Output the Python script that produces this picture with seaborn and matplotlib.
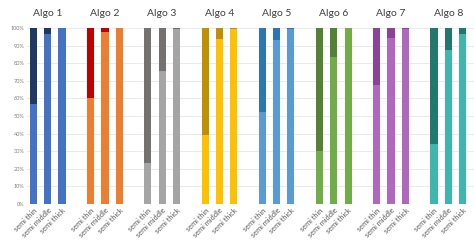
import pandas as pd
import numpy as np
import matplotlib.pyplot as plt
import seaborn as sns

# data: share (%) of the lower, lighter part of each bar
algos = ['Algo 1', 'Algo 2', 'Algo 3', 'Algo 4', 'Algo 5', 'Algo 6', 'Algo 7', 'Algo 8']
kinds = ['semi thin', 'semi middle', 'semi thick']
lower = [
    [57, 96.5, 100],
    [60, 98, 100],
    [23.5, 75.5, 99.5],
    [39, 93.5, 99.3],
    [52, 93, 99.6],
    [30, 83.5, 100],
    [67.5, 94.5, 99.6],
    [34, 87.5, 96.5],
]
dark = ['#203864', '#C00000', '#767171', '#BF9000', '#2E75B6', '#548235', '#8A4399', '#22776F']
light = ['#4472C4', '#ED7D31', '#A5A5A5', '#FFC000', '#5B9BD5', '#70AD47', '#B068BF', '#3EB5AE']

rows = []
for g, algo in enumerate(algos):
    for i, k in enumerate(kinds):
        rows.append({'pos': 4 * g + i, 'algo': algo, 'kind': k,
                     'low': lower[g][i], 'top': 100,
                     'dark': dark[g], 'light': light[g]})
df = pd.DataFrame(rows)

sns.set_style('white')
plt.rcParams['font.family'] = ['Lato', 'DejaVu Sans']

fig = plt.figure(figsize=(4.74, 2.42), dpi=100)
ax = fig.add_axes([27 / 474, 38 / 242, 447 / 474, 176 / 242])

for y in range(10, 101, 10):
    ax.axhline(y, color='#E6E6E6', lw=0.6, zorder=0)

sns.barplot(data=df, x='pos', y='top', hue='pos',
            palette=dict(zip(df['pos'], df['dark'])),
            native_scale=True, width=0.5, saturation=1, legend=False, ax=ax,
            linewidth=0, zorder=2)
sns.barplot(data=df, x='pos', y='low', hue='pos',
            palette=dict(zip(df['pos'], df['light'])),
            native_scale=True, width=0.5, saturation=1, legend=False, ax=ax,
            linewidth=0, zorder=3)

ax.set_xlim(-0.45, 30.8)
ax.set_ylim(0, 100)
ax.set_yticks(range(0, 101, 10))
ax.set_yticklabels([f'{v}%' for v in range(0, 101, 10)], fontsize=4, color='#7F7F7F')
ax.set_xticks(df['pos'])
ax.set_xticklabels(df['kind'], rotation=45, ha='right', rotation_mode='anchor',
                   fontsize=5.3, color='#595959')
ax.tick_params(axis='both', length=0, pad=2)
ax.set_xlabel('')
ax.set_ylabel('')
for s in ax.spines.values():
    s.set_visible(False)
ax.axhline(0, color='#D9D9D9', lw=0.6, zorder=1)

for g, algo in enumerate(algos):
    ax.text(4 * g + 1, 108.5, algo, ha='center', va='center', fontsize=7.5,
            color='#404040', clip_on=False)

fig.savefig('out.png', dpi=100)
